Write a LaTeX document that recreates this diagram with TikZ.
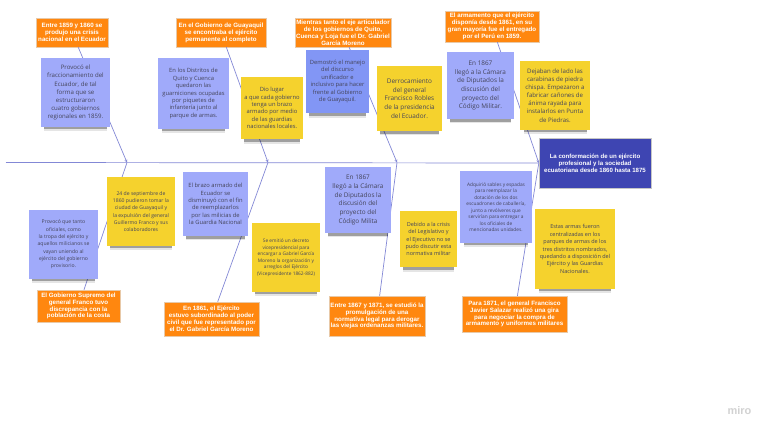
\documentclass[tikz,border=0pt]{standalone}
\usepackage{fontspec}
\setmainfont{Liberation Sans}
\newfontfamily\notefont{Open Sans}
\usetikzlibrary{shadows,arrows.meta}
\definecolor{ribline}{HTML}{8388D6}
\definecolor{orangebox}{HTML}{FF870F}
\definecolor{orangeedge}{HTML}{E8C9A8}
\definecolor{bluenote}{HTML}{A0AAFA}
\definecolor{bluedeep}{HTML}{8296F5}
\definecolor{yellownote}{HTML}{F5D22D}
\definecolor{navybox}{HTML}{3E45B2}
\definecolor{notetext}{HTML}{44445A}

\begin{document}
\begin{tikzpicture}[
	x=1pt, y=-1pt,
	titlebox/.style={
		draw=orangeedge, fill=orangebox, text=white, rectangle,
		font=\fontsize{6.2}{6.9}\selectfont\bfseries, align=center, inner sep=1pt
	},
	notebox/.style={
		rectangle, align=center, inner sep=1pt, text=notetext,
		drop shadow={shadow xshift=0pt, shadow yshift=-8.5pt, shadow scale=0.9, fill=black, opacity=0.1},
		drop shadow={shadow xshift=0pt, shadow yshift=-6.5pt, shadow scale=0.9, fill=black, opacity=0.3}
	},
	bluebox/.style={notebox, fill=bluenote},
	yellowbox/.style={notebox, fill=yellownote},
	mainbox/.style={
		draw=gray!45, fill=navybox, text=white, rectangle,
		font=\fontsize{6.1}{7}\selectfont\bfseries, align=center, inner sep=1pt
	},
	rib/.style={ribline, line width=0.7pt},
	ribtip/.style={ribline, line width=0.7pt, -{Stealth[length=3pt,width=3pt]}},
	]
	\def\fsa{\fontsize{4.8}{6.5}\selectfont\notefont}
	\def\fsb{\fontsize{5.1}{7.3}\selectfont\notefont}
	\def\fsc{\fontsize{5.5}{7.4}\selectfont\notefont}
	\def\fsd{\fontsize{5.8}{7.4}\selectfont\notefont}
	\def\fse{\fontsize{6.1}{8.1}\selectfont\notefont}
	\def\fsf{\fontsize{6.4}{8.7}\selectfont\notefont}
	
	\useasboundingbox (0, 0) rectangle (768, 432);
	\fill[white] (0, 0) rectangle (768, 432);
	
	% Spine and the joints the ribs run to
	\coordinate (start) at (6, 162.5);
	\coordinate (j1) at (127, 162.5);
	\coordinate (j2) at (268, 162.5);
	\coordinate (j3) at (397, 162.5);
	
	% Titles, top row
	\node[titlebox, minimum width=72pt, minimum height=29pt] (t1) at (72, 32.5) {Entre 1859 y 1860 se\\produjo una crisis\\nacional en el Ecuador};
	\node[titlebox, minimum width=90pt, minimum height=29pt] (t2) at (221, 32.5) {En el Gobierno de Guayaquil\\se encontraba el ejército\\permanente al completo};
	\node[titlebox, minimum width=96pt, minimum height=29pt] (t3) at (343, 32.5) {Mientras tanto el eje articulador\\de los gobiernos de Quito,\\Cuenca y Loja fue el Dr. Gabriel\\García Moreno};
	\node[titlebox, minimum width=94pt, minimum height=31pt] (t4) at (492, 26.5) {El armamento que el ejército\\disponía desde 1861, en su\\gran mayoría fue el entregado\\por el Perú en 1859.};
	
	% Titles, bottom row
	\node[titlebox, minimum width=83pt, minimum height=32pt] (t5) at (78.5, 306) {El Gobierno Supremo del\\general Franco tuvo\\discrepancia con la\\población de la costa};
	\node[titlebox, minimum width=95pt, minimum height=34pt] (t6) at (211.5, 319) {En 1861, el Ejército\\estuvo subordinado al poder\\civil que fue representado por\\el Dr. Gabriel García Moreno};
	\node[titlebox, minimum width=96pt, minimum height=40pt] (t7) at (377, 316) {Entre 1867 y 1871, se estudió la\\promulgación de una\\normativa legal para derogar\\las viejas ordenanzas militares.};
	\node[titlebox, minimum width=105pt, minimum height=36pt] (t8) at (514.5, 314) {Para 1871, el general Francisco\\Javier Salazar realizó una gira\\para negociar la compra de\\armamento y uniformes militares};
	
	\node[mainbox, minimum width=112pt, minimum height=50pt] (goal) at (595, 163) {La conformación de un ejército\\profesional y la sociedad\\ecuatoriana desde 1860 hasta 1875};
	
	\draw[rib] (start) -- (goal.west);
	
	% Ribs go under the notes
	\draw[ribtip] (t1) -- (j1);
	\draw[ribtip] (t2) -- (j2);
	\draw[ribtip] (t3) -- (j3);
	\draw[ribtip] (t4) -- (goal.west);
	\draw[rib] (t5) -- (j1);
	\draw[rib] (t6) -- (j2);
	\draw[rib] (t7) -- (j3);
	\draw[rib] (t8) -- (goal.west);
	
	% Notes above the spine
	\node[bluebox, minimum width=69pt, minimum height=69pt, font=\fse] (n1) at (75.5, 92.5) {Provocó el\\fraccionamiento del\\Ecuador, de tal\\forma que se\\estructuraron\\cuatro gobiernos\\regionales en 1859.};
	\node[bluebox, minimum width=71pt, minimum height=71pt, font=\fsd] (n2) at (193.5, 93.5) {En los Distritos de\\Quito y Cuenca\\quedaron las\\guarniciones ocupadas\\por piquetes de\\infantería junto al\\parque de armas.};
	\node[yellowbox, minimum width=62pt, minimum height=62pt, font=\fsd] (n3) at (272, 108) {Dio lugar\\a que cada gobierno\\tenga un brazo\\armado por medio\\de las guardias\\nacionales locales.};
	\node[bluebox, fill=bluedeep, minimum width=63pt, minimum height=63pt, font=\fsd] (n4) at (337.5, 81.5) {Demostró el manejo\\del discurso\\unificador e\\inclusivo para hacer\\frente al Gobierno\\de Guayaquil.};
	\node[yellowbox, minimum width=65pt, minimum height=65pt, font=\fsf] (n5) at (409.5, 98.5) {Derrocamiento\\del general\\Francisco Robles\\de la presidencia\\del Ecuador.};
	\node[bluebox, minimum width=67pt, minimum height=67pt, font=\fsf] (n6) at (480.5, 85.5) {En 1867\\llegó a la Cámara\\de Diputados la\\discusión del\\proyecto del\\Código Militar.};
	\node[yellowbox, minimum width=70pt, minimum height=69pt, font=\fse] (n7) at (555, 95.5) {Dejaban de lado las\\carabinas de piedra\\chispa. Empezaron a\\fabricar cañones de\\ánima rayada para\\instalarlos en Punta\\de Piedras.};
	
	% Notes below the spine
	\node[bluebox, minimum width=69pt, minimum height=69pt, font=\fsb] (n8) at (63.5, 244.5) {Provocó que tanto\\oficiales, como\\la tropa del ejército y\\aquellos milicianos se\\vayan uniendo al\\ejército del gobierno\\provisorio.};
	\node[yellowbox, minimum width=68pt, minimum height=69pt, font=\fsb] (n9) at (141, 211.5) {24 de septiembre de\\1860 pudieron tomar la\\ciudad de Guayaquil y\\la expulsión del general\\Guillermo Franco y sus\\colaboradores};
	\node[bluebox, minimum width=65pt, minimum height=64pt, font=\fsd] (n10) at (215.5, 204) {El brazo armado del\\Ecuador se\\disminuyó con el fin\\de reemplazarlos\\por las milicias de\\la Guardia Nacional};
	\node[yellowbox, minimum width=68pt, minimum height=69pt, font=\fsa] (n11) at (286, 257.5) {Se emitió un decreto\\vicepresidencial para\\encargar a Gabriel García\\Moreno la organización y\\arreglos del Ejército\\(Vicepresidente 1862-882)};
	\node[bluebox, minimum width=66pt, minimum height=66pt, font=\fsf] (n12) at (358, 200) {En 1867\\llegó a la Cámara\\de Diputados la\\discusión del\\proyecto del\\Código Milita};
	\node[yellowbox, minimum width=57pt, minimum height=56pt, font=\fsc] (n13) at (428.5, 239) {Debido a la crisis\\del Legislativo y\\el Ejecutivo no se\\pudo discutir esta\\normativa militar};
	\node[bluebox, minimum width=72pt, minimum height=72pt, font=\fsa] (n14) at (496, 207) {Adquirió sables y espadas\\para reemplazar la\\dotación de los dos\\escuadrones de caballería,\\junto a revólveres que\\servirían para entregar a\\los oficiales de\\mencionadas unidades.};
	\node[yellowbox, minimum width=80pt, minimum height=80pt, font=\fsc] (n15) at (575, 249) {Estas armas fueron\\centralizadas en los\\parques de armas de los\\tres distritos nombrados,\\quedando a disposición del\\Ejército y las Guardias\\Nacionales.};
	
	\node[text=gray!35, font=\fontsize{11}{11}\selectfont\bfseries] (logo) at (739.5, 411) {miro};
	
\end{tikzpicture}
\end{document}
